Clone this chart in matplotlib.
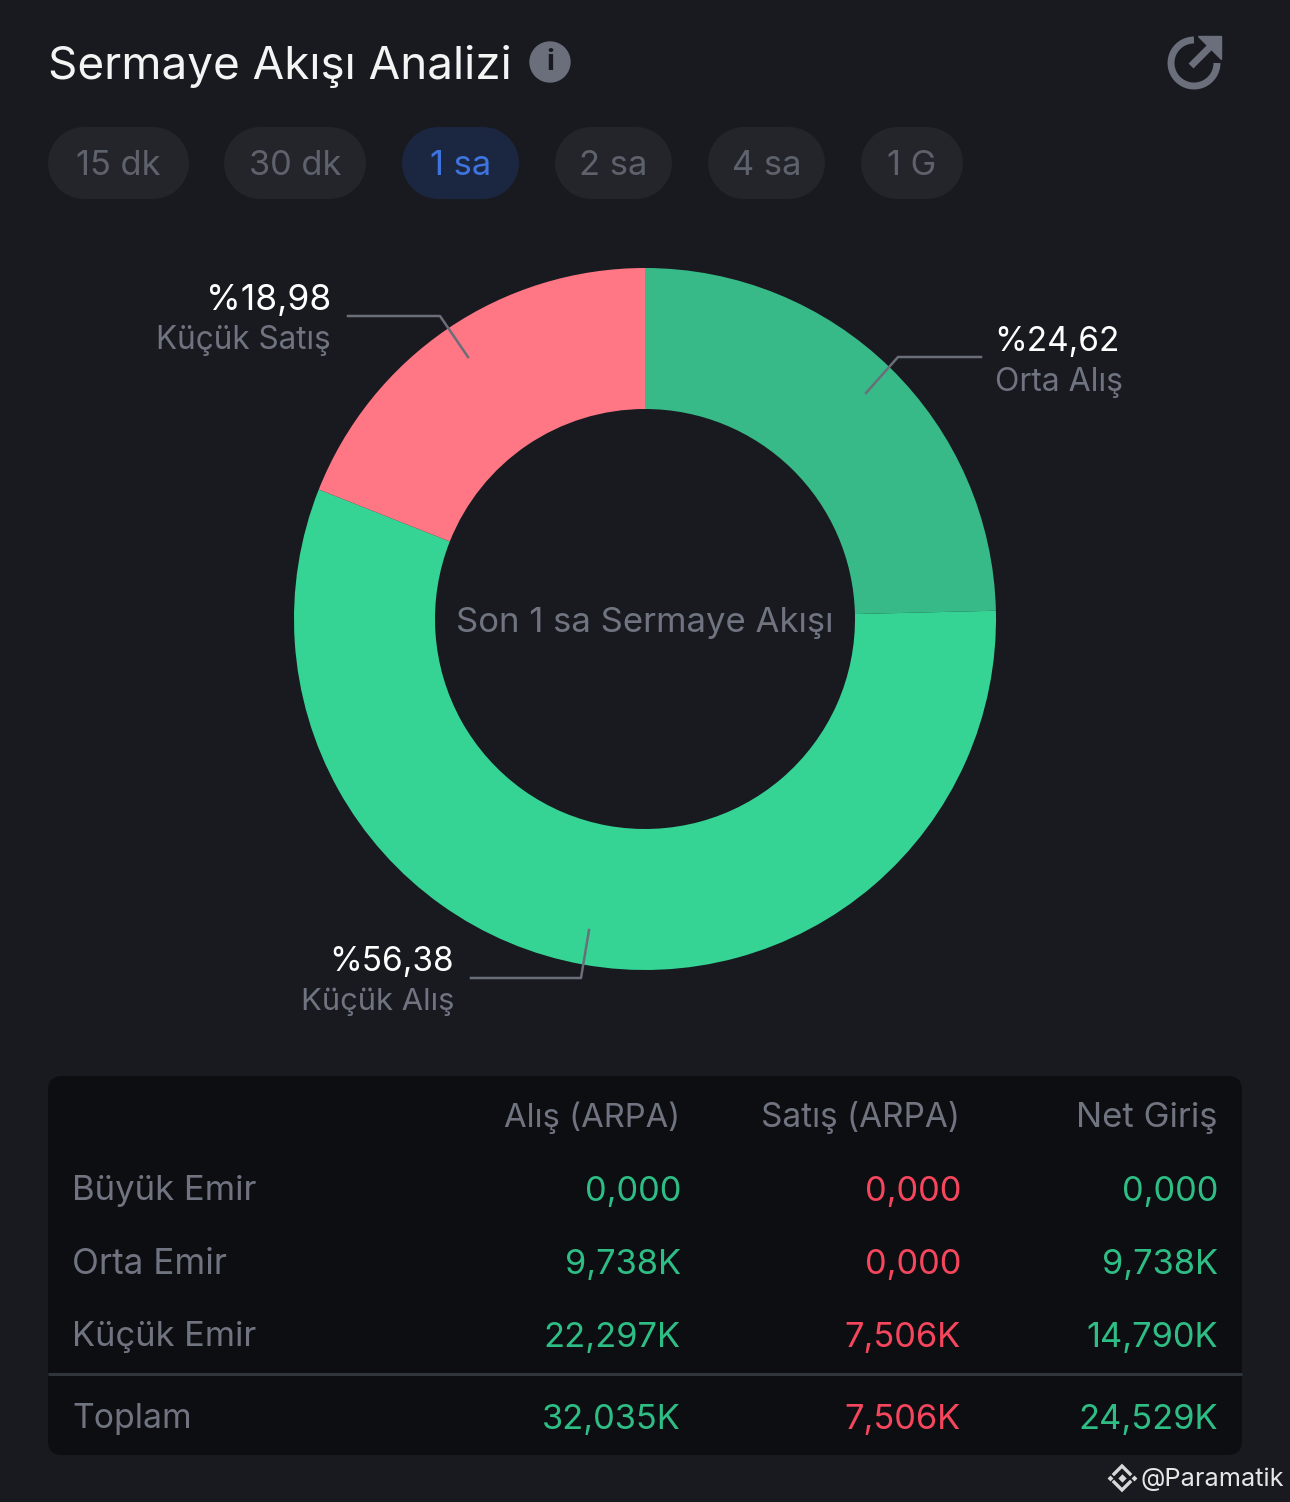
import numpy as np
import matplotlib
matplotlib.use("Agg")
import matplotlib.pyplot as plt
from matplotlib.patches import FancyBboxPatch, Circle, Arc, Polygon

W, H = 1290, 1502
BG = "#181A20"
GREY = "#6F7480"
GREEN = "#2EBD85"
RED = "#F6465D"

title = "Sermaye Akışı Analizi"
periods = ["15 dk", "30 dk", "1 sa", "2 sa", "4 sa", "1 G"]
active_period = "1 sa"

slice_names = ["Orta Alış", "Küçük Alış", "Küçük Satış"]
slice_values = [24.62, 56.38, 18.98]
slice_labels = ["%24,62", "%56,38", "%18,98"]
slice_colors = ["#38BA88", "#35D495", "#FF7785"]
center_text = "Son 1 sa Sermaye Akışı"

col_names = ["Alış (ARPA)", "Satış (ARPA)", "Net Giriş"]
col_sizes = [23.6, 24, 25]
row_names = ["Büyük Emir", "Orta Emir", "Küçük Emir", "Toplam"]
row_sizes = [25, 25.3, 24.8, 24.3]
buy_vals = ["0,000", "9,738K", "22,297K", "32,035K"]
sell_vals = ["0,000", "0,000", "7,506K", "7,506K"]
net_vals = ["0,000", "9,738K", "14,790K", "24,529K"]

plt.rcParams["font.family"] = ["Inter", "DejaVu Sans"]

fig = plt.figure(figsize=(W/100, H/100), dpi=100, facecolor=BG)
ax = fig.add_axes([0, 0, 1, 1])
ax.set_xlim(0, W)
ax.set_ylim(H, 0)
ax.axis("off")

# header
ax.text(48, 66, title, color="#F4F4F4", fontsize=33, va="center", ha="left")
ax.add_patch(Circle((550, 62), 20, color="#6A6F7B"))
ax.text(550, 63, "i", color=BG, fontsize=21, fontweight="bold", ha="center", va="center")

# refresh icon
ax.add_patch(Arc((1194, 63), 46, 46, theta1=0, theta2=270, color="#6A6F7B", lw=5))
ax.plot([1191, 1213], [66, 44], color="#6A6F7B", lw=5, solid_capstyle="butt")
ax.add_patch(Polygon([[1198, 36], [1221, 36], [1221, 59]], closed=True, color="#6A6F7B"))

# period pills, thick round capped lines so the ends are true half circles
pill_x = [48, 224, 402, 555, 708, 861]
pill_w = [141, 142, 117, 117, 117, 102]
for x, w, name in zip(pill_x, pill_w, periods):
    on = name == active_period
    ax.plot([x+36, x+w-36], [163, 163], color="#1B2740" if on else "#23252B",
            lw=72*0.72, solid_capstyle="round")
    ax.text(x+w/2, 166, name, color="#3F73E0" if on else "#5E626C",
            fontsize=24.8, ha="center", va="center")

# donut
pie_ax = fig.add_axes([294/W, 1-970/H, 702/W, 702/H])
pie_ax.pie(slice_values, colors=slice_colors, startangle=90, counterclock=False,
           radius=1, wedgeprops={"width": 141/351, "linewidth": 0})
pie_ax.set_xlim(-1, 1)
pie_ax.set_ylim(-1, 1)

ax.set_zorder(2)
ax.patch.set_alpha(0)
ax.text(645, 623, center_text, color=GREY, fontsize=25, ha="center", va="center")

# leader lines and labels
lead = "#6A6E78"
ax.plot([866, 898, 981], [393, 357, 357], color=lead, lw=1.8)
ax.plot([468, 440, 348], [357, 316, 316], color=lead, lw=1.8)
ax.plot([589, 581, 471], [930, 978, 978], color=lead, lw=1.8)
ax.text(994, 342, slice_labels[0], color="white", fontsize=24, ha="left", va="center")
ax.text(995, 382, slice_names[0], color=GREY, fontsize=23, ha="left", va="center")
ax.text(331, 300, slice_labels[2], color="white", fontsize=25.5, ha="right", va="center")
ax.text(331, 341, slice_names[2], color=GREY, fontsize=22.7, ha="right", va="center")
ax.text(454, 962, slice_labels[1], color="white", fontsize=24, ha="right", va="center")
ax.text(454, 1002, slice_names[1], color=GREY, fontsize=22.3, ha="right", va="center")

# table
ax.add_patch(FancyBboxPatch((48+14, 1076+14), 1194-28, 379-28,
                            boxstyle="round,pad=14,rounding_size=14",
                            fc="#0D0E11", ec="none"))
col_x = [680, 960, 1217]
row_y = [1191, 1264, 1337, 1419]
for x, name, sz in zip(col_x, col_names, col_sizes):
    ax.text(x, 1118, name, color=GREY, fontsize=sz, ha="right", va="center")
for i, y in enumerate(row_y):
    ax.text(72, y, row_names[i], color=GREY, fontsize=row_sizes[i], ha="left", va="center")
    ax.text(col_x[0]+1, y+1, buy_vals[i], color=GREEN, fontsize=24.8, ha="right", va="center")
    ax.text(col_x[1]+1, y+1, sell_vals[i], color=RED, fontsize=24.8, ha="right", va="center")
    ax.text(col_x[2]+1, y+1, net_vals[i], color=GREEN, fontsize=24.8, ha="right", va="center")
ax.plot([48, 1242], [1374, 1374], color="#30343C", lw=2.2, solid_capstyle="butt")

# watermark
cx, cy = 1122, 1478
wm = "#D8D8D8"
ax.plot([cx-8, cx, cx+8], [cy-4, cy-12, cy-4], color=wm, lw=2.4, solid_joinstyle="miter")
ax.plot([cx-8, cx, cx+8], [cy+4, cy+12, cy+4], color=wm, lw=2.4, solid_joinstyle="miter")
ax.scatter([cx], [cy], marker="D", s=18, color=wm, linewidths=0)
ax.scatter([cx-12, cx+12], [cy, cy], marker="D", s=9, color=wm, linewidths=0)
ax.text(1140, 1479, "@Paramatik", color="#E6E6E6", fontsize=18.2, ha="left", va="center")

fig.savefig("out.png", dpi=100, facecolor=BG)
